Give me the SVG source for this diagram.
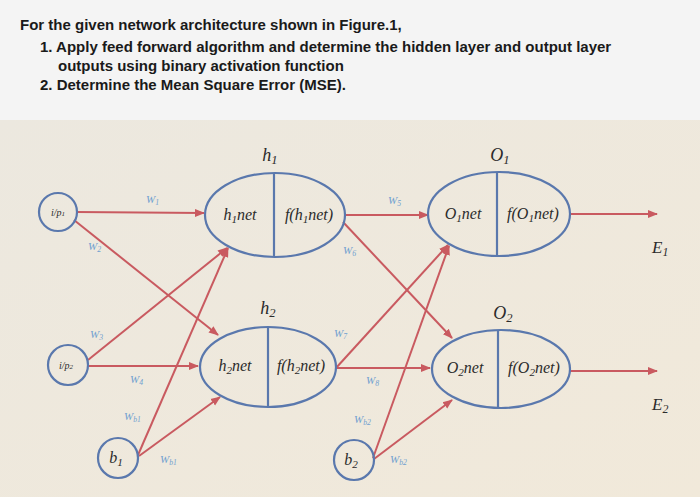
<svg xmlns="http://www.w3.org/2000/svg" width="700" height="497" viewBox="0 0 700 497">
<defs>
<marker id="ah" viewBox="0 0 10 10" refX="9" refY="5" markerWidth="5" markerHeight="5" orient="auto"><path d="M0,1 L10,5 L0,9 z" fill="#c95a60"/></marker>
<linearGradient id="bg" x1="0" y1="0" x2="1" y2="1"><stop offset="0" stop-color="#ece8df"/><stop offset="1" stop-color="#f1e9da"/></linearGradient>
</defs>
<style>
.q{font-family:"Liberation Sans",Arial,sans-serif;font-size:15px;fill:#1a1a1a}
.b{font-weight:bold}
.n{fill:none;stroke:#5a78ad;stroke-width:2.2}
.c{stroke:#c95a60;stroke-width:2;fill:none;marker-end:url(#ah)}
.t{font-family:"Liberation Serif","Times New Roman",serif;font-style:italic;fill:#2b2b2b}
.w{font-family:"Liberation Serif",serif;font-style:italic;font-size:11px;fill:#6fa0d0}
.s{font-size:0.7em}
</style>
<rect width="700" height="497" fill="#f4f4f4"/>
<rect x="0" y="120" width="700" height="377" fill="url(#bg)"/>
<text class="q" x="20" y="30" font-weight="600">For the given network architecture shown in Figure.1,</text>
<text class="q b" x="40" y="52">1. Apply feed forward algorithm and determine the hidden layer and output layer</text>
<text class="q b" x="58" y="71">outputs using binary activation function</text>
<text class="q b" x="40" y="90">2. Determine the Mean Square Error (MSE).</text>
<g id="connectors">
<line class="c" x1="76" y1="212" x2="204" y2="213"/>
<line class="c" x1="74" y1="220" x2="218" y2="335"/>
<line class="c" x1="88" y1="360" x2="227" y2="248"/>
<line class="c" x1="89" y1="366" x2="198" y2="366"/>
<line class="c" x1="138" y1="455" x2="228" y2="248"/>
<line class="c" x1="139" y1="456" x2="220" y2="397"/>
<line class="c" x1="345" y1="215" x2="428" y2="215"/>
<line class="c" x1="343" y1="222" x2="452" y2="338"/>
<line class="c" x1="336" y1="368" x2="448" y2="245"/>
<line class="c" x1="336" y1="368" x2="430" y2="368"/>
<line class="c" x1="373" y1="458" x2="449" y2="246"/>
<line class="c" x1="374" y1="459" x2="452" y2="400"/>
<line class="c" x1="570" y1="214" x2="657" y2="214"/>
<line class="c" x1="570" y1="371" x2="657" y2="371"/>
</g>
<g id="weights">
<text class="w" x="146" y="203">W<tspan class="s" dy="2">1</tspan></text>
<text class="w" x="88" y="250">W<tspan class="s" dy="2">2</tspan></text>
<text class="w" x="90" y="338">W<tspan class="s" dy="2">3</tspan></text>
<text class="w" x="130" y="383">W<tspan class="s" dy="2">4</tspan></text>
<text class="w" x="124" y="420">W<tspan class="s" dy="2">b1</tspan></text>
<text class="w" x="160" y="463">W<tspan class="s" dy="2">b1</tspan></text>
<text class="w" x="388" y="204">W<tspan class="s" dy="2">5</tspan></text>
<text class="w" x="343" y="254">W<tspan class="s" dy="2">6</tspan></text>
<text class="w" x="334" y="337">W<tspan class="s" dy="2">7</tspan></text>
<text class="w" x="366" y="384">W<tspan class="s" dy="2">8</tspan></text>
<text class="w" x="354" y="423">W<tspan class="s" dy="2">b2</tspan></text>
<text class="w" x="390" y="463">W<tspan class="s" dy="2">b2</tspan></text>
</g>
<g id="ip1"><circle class="n" cx="58" cy="212" r="19"/><text class="t" x="58" y="216" font-size="10" text-anchor="middle">i/p<tspan class="s">1</tspan></text></g>
<g id="ip2"><circle class="n" cx="68" cy="365" r="20"/><text class="t" x="66" y="369" font-size="10" text-anchor="middle">i/p<tspan class="s">2</tspan></text></g>
<g id="b1"><circle class="n" cx="118" cy="458" r="20"/><text class="t" x="116" y="463" font-size="16" text-anchor="middle">b<tspan class="s" dy="3">1</tspan></text></g>
<g id="b2"><circle class="n" cx="354" cy="460" r="20"/><text class="t" x="351" y="465" font-size="16" text-anchor="middle">b<tspan class="s" dy="3">2</tspan></text></g>
<g id="h1"><ellipse class="n" cx="275" cy="215" rx="70" ry="42"/><line class="n" x1="274" y1="173" x2="274" y2="257"/>
<text class="t" x="270" y="161" font-size="18" text-anchor="middle">h<tspan class="s" dy="3">1</tspan></text>
<text class="t" x="240" y="220" font-size="16" text-anchor="middle">h<tspan class="s" dy="3">1</tspan><tspan dy="-3">net</tspan></text>
<text class="t" x="309" y="220" font-size="16" text-anchor="middle">f(h<tspan class="s" dy="3">1</tspan><tspan dy="-3">net)</tspan></text></g>
<g id="h2"><ellipse class="n" cx="268" cy="367" rx="68" ry="40"/><line class="n" x1="268" y1="327" x2="268" y2="407"/>
<text class="t" x="268" y="314" font-size="18" text-anchor="middle">h<tspan class="s" dy="3">2</tspan></text>
<text class="t" x="235" y="371" font-size="16" text-anchor="middle">h<tspan class="s" dy="3">2</tspan><tspan dy="-3">net</tspan></text>
<text class="t" x="301" y="371" font-size="16" text-anchor="middle">f(h<tspan class="s" dy="3">2</tspan><tspan dy="-3">net)</tspan></text></g>
<g id="O1"><ellipse class="n" cx="499" cy="214" rx="71" ry="42"/><line class="n" x1="497" y1="172" x2="497" y2="256"/>
<text class="t" x="500" y="161" font-size="18" text-anchor="middle">O<tspan class="s" dy="3">1</tspan></text>
<text class="t" x="463" y="219" font-size="16" text-anchor="middle">O<tspan class="s" dy="3">1</tspan><tspan dy="-3">net</tspan></text>
<text class="t" x="533" y="219" font-size="16" text-anchor="middle">f(O<tspan class="s" dy="3">1</tspan><tspan dy="-3">net)</tspan></text></g>
<g id="O2"><ellipse class="n" cx="501" cy="369" rx="69" ry="39"/><line class="n" x1="498" y1="330" x2="498" y2="408"/>
<text class="t" x="503" y="319" font-size="18" text-anchor="middle">O<tspan class="s" dy="3">2</tspan></text>
<text class="t" x="465" y="373" font-size="16" text-anchor="middle">O<tspan class="s" dy="3">2</tspan><tspan dy="-3">net</tspan></text>
<text class="t" x="534" y="373" font-size="16" text-anchor="middle">f(O<tspan class="s" dy="3">2</tspan><tspan dy="-3">net)</tspan></text></g>
<g id="errors">
<text class="t" x="652" y="253" font-size="17">E<tspan class="s" dy="3">1</tspan></text>
<text class="t" x="652" y="410" font-size="17">E<tspan class="s" dy="3">2</tspan></text>
</g>
</svg>
